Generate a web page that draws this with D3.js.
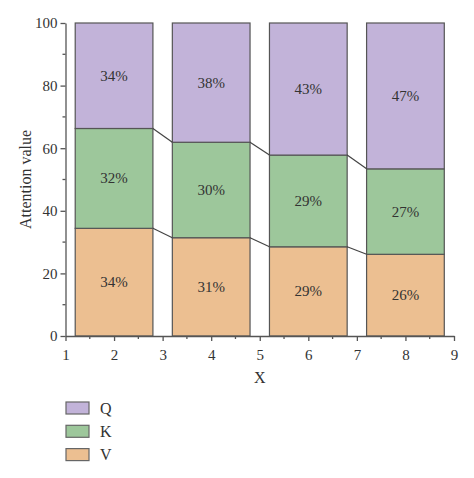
<!DOCTYPE html>
<html>
<head>
<meta charset="utf-8">
<script src="https://cdn.jsdelivr.net/npm/d3@7"></script>
<style>
  body { margin: 0; background: #fff; }
  svg text { font-family: "Liberation Serif", "DejaVu Serif", serif; fill: #333; }
</style>
</head>
<body>
<div id="chart"></div>
<script>
// data
var xPos = [2, 4, 6, 8];
var valV = [34.4, 31.4, 28.5, 26.1];
var valK = [31.9, 30.5, 29.3, 27.3];
var labV = ["34%", "31%", "29%", "26%"];
var labK = ["32%", "30%", "29%", "27%"];
var labQ = ["34%", "38%", "43%", "47%"];
var seriesNames = ["Q", "K", "V"];
var seriesColors = { Q: "#c2b3d9", K: "#9dc79b", V: "#ecbf91" };

var width = 474, height = 478;
var barW = 1.6;

var svg = d3.select("#chart").append("svg")
  .attr("width", width).attr("height", height);

var x = d3.scaleLinear().domain([1, 9]).range([65.5, 454]);
var y = d3.scaleLinear().domain([0, 100]).range([336, 23]);

// stack the three layers
var rows = xPos.map(function(d, i) {
  return { x: d, V: valV[i], K: valK[i], Q: 100 - valV[i] - valK[i],
           lV: labV[i], lK: labK[i], lQ: labQ[i] };
});
var stack = d3.stack().keys(["V", "K", "Q"]);
var layers = stack(rows);

var g = svg.append("g");

layers.forEach(function(layer) {
  g.selectAll(".bar-" + layer.key)
    .data(layer)
    .enter()
    .append("rect")
    .attr("x", function(d) { return x(d.data.x - barW / 2); })
    .attr("width", x(barW) - x(0))
    .attr("y", function(d) { return y(d[1]); })
    .attr("height", function(d) { return y(d[0]) - y(d[1]); })
    .attr("fill", seriesColors[layer.key])
    .attr("stroke", "#555")
    .attr("stroke-width", 1.2);

  g.selectAll(".lab-" + layer.key)
    .data(layer)
    .enter()
    .append("text")
    .attr("x", function(d) { return x(d.data.x); })
    .attr("y", function(d) { return y((d[0] + d[1]) / 2) + 5; })
    .attr("text-anchor", "middle")
    .style("font-size", "15px")
    .text(function(d) { return d.data["l" + layer.key]; });
});

// connector lines between bar tops (V and K layers)
layers.slice(0, 2).forEach(function(layer) {
  for (var i = 0; i < layer.length - 1; i++) {
    var a = layer[i], b = layer[i + 1];
    g.append("line")
      .attr("x1", x(a.data.x + barW / 2)).attr("y1", y(a[1]))
      .attr("x2", x(b.data.x - barW / 2)).attr("y2", y(b[1]))
      .attr("stroke", "#444")
      .attr("stroke-width", 1.2);
  }
});

// axes
var axisColor = "#555";
var xAxis = svg.append("g").attr("transform", "translate(0," + y(0) + ")");
xAxis.call(d3.axisBottom(x).tickValues(d3.range(1, 10)).tickSize(5).tickSizeOuter(0).tickFormat(d3.format("d")));
xAxis.append("g").selectAll("line")
  .data(d3.range(1.5, 9, 1))
  .enter().append("line")
  .attr("x1", function(d) { return x(d); }).attr("x2", function(d) { return x(d); })
  .attr("y1", 0).attr("y2", 3);

var yAxis = svg.append("g").attr("transform", "translate(" + x(1) + ",0)");
yAxis.call(d3.axisLeft(y).tickValues(d3.range(0, 101, 20)).tickSize(5).tickSizeOuter(0));
yAxis.append("g").selectAll("line")
  .data(d3.range(10, 100, 20))
  .enter().append("line")
  .attr("y1", function(d) { return y(d); }).attr("y2", function(d) { return y(d); })
  .attr("x1", 0).attr("x2", -3);

[xAxis, yAxis].forEach(function(ax) {
  ax.selectAll("path, line").attr("stroke", axisColor).attr("stroke-width", 1.3);
  ax.selectAll("text").style("font-size", "15px")
    .style("font-family", "'Liberation Serif', serif").attr("fill", "#333");
});
xAxis.selectAll(".tick text").attr("dy", "1.05em");

svg.append("text")
  .attr("x", x(5)).attr("y", 383)
  .attr("text-anchor", "middle")
  .style("font-size", "16px")
  .text("X");

svg.append("text")
  .attr("transform", "translate(31," + y(50) + ") rotate(-90)")
  .attr("text-anchor", "middle")
  .style("font-size", "16px")
  .text("Attention value");

// legend
var legend = svg.append("g").attr("transform", "translate(66,402)");
var items = legend.selectAll("g")
  .data(seriesNames)
  .enter().append("g")
  .attr("transform", function(d, i) { return "translate(0," + (i * 23.3) + ")"; });
items.append("rect")
  .attr("width", 23).attr("height", 12)
  .attr("fill", function(d) { return seriesColors[d]; })
  .attr("stroke", "#666").attr("stroke-width", 1.2);
items.append("text")
  .attr("x", 34).attr("y", 11.5)
  .style("font-size", "16px")
  .text(function(d) { return d; });
</script>
</body>
</html>
